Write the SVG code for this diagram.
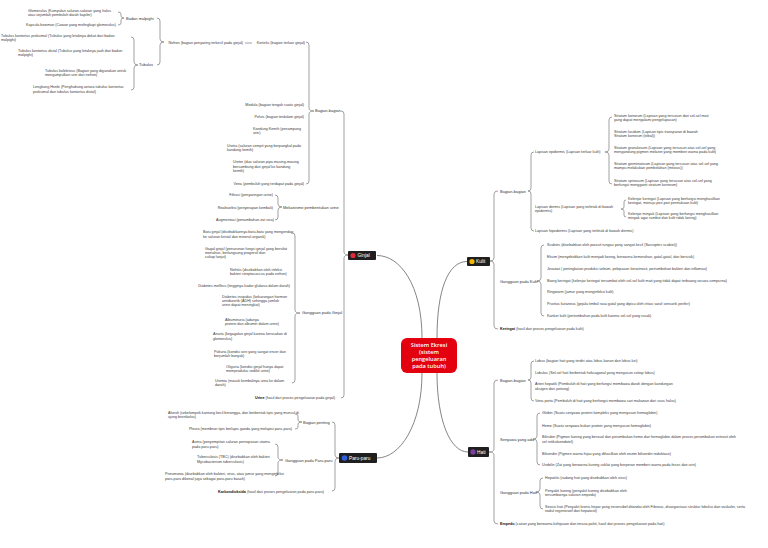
<svg xmlns="http://www.w3.org/2000/svg" width="768" height="548" viewBox="0 0 768 548">
<style>
.t{font-family:"Liberation Sans",Arial,sans-serif;font-size:3.7px;fill:#3a3a3a}
.m{font-size:4px;fill:#333}
.e{text-anchor:end}
.b{font-weight:bold;fill:#111}
.br{fill:none;stroke:#7a7a7a;stroke-width:0.7}
.cn{fill:none;stroke:#666;stroke-width:0.8}
.nb{fill:#1f1f1f}
.nl{font-family:"Liberation Sans",Arial,sans-serif;font-size:4.8px;fill:#fff}
.ct{font-family:"Open Sans","Liberation Sans",sans-serif;font-size:5.7px;fill:#fff;text-anchor:middle;font-weight:600}
</style>
<rect width="768" height="548" fill="#fff"/>
<g id="connectors">
<path class="cn" d="M377 255.5 C400 255.5 422 285 422 338"/>
<path class="cn" d="M467 261.5 C448 261.5 437 290 437 338"/>
<path class="cn" d="M377 458 C400 458 422 425 422 373"/>
<path class="cn" d="M468 452 C450 452 437 420 437 373"/>
<path class="br" d="M341 111 Q344 111 344 114 L344 252 Q344 255 349 255 Q344 255 344 258 L344 395 Q344 398 341 398"/>
<path class="br" d="M306 42 Q309 42 309 45 L309 108 Q309 111 314 111 Q309 111 309 114 L309 181 Q309 184 306 184"/>
<path class="br" d="M245 43 L252 43"/>
<path class="br" d="M157 18 Q160 18 160 21 L160 39 Q160 42 164 42 Q160 42 160 45 L160 62 Q160 65 157 65"/>
<path class="br" d="M118 12 Q121 12 121 14 L121 16 Q121 18 124 18 Q121 18 121 20 L121 23 Q121 25 118 25"/>
<path class="br" d="M131 37 Q134 37 134 40 L134 62 Q134 65 138 65 Q134 65 134 68 L134 87 Q134 90 131 90"/>
<path class="br" d="M275 195 Q278 195 278 198 L278 204 Q278 207 282 207 Q278 207 278 210 L278 217 Q278 220 275 220"/>
<path class="br" d="M292 233 Q295 233 295 236 L295 310 Q295 313 300 313 Q295 313 295 316 L295 380 Q295 383 292 383"/>
<path class="br" d="M332 422 Q335 422 335 425 L335 455 Q335 458 339 458 Q335 458 335 461 L335 488 Q335 491 332 491"/>
<path class="br" d="M295 414 Q298 414 298 416 L298 420 Q298 422 302 422 Q298 422 298 424 L298 427 Q298 429 295 429"/>
<path class="br" d="M275 444 Q278 444 278 447 L278 457 Q278 460 283 460 Q278 460 278 463 L278 473 Q278 476 275 476"/>
<path class="br" d="M498 191 Q494 191 494 194 L494 258 Q494 261 490 261 Q494 261 494 264 L494 326 Q494 329 498 329"/>
<path class="br" d="M534 152 Q531 152 531 155 L531 188 Q531 191 528 191 Q531 191 531 194 L531 228 Q531 231 534 231"/>
<path class="br" d="M612 117 Q609 117 609 120 L609 149 Q609 152 605 152 Q609 152 609 155 L609 181 Q609 184 612 184"/>
<path class="br" d="M626 200 Q624 200 624 202 L624 207 Q624 209 621 209 Q624 209 624 211 L624 215 Q624 217 626 217"/>
<path class="br" d="M544 245 Q541 245 541 248 L541 278 Q541 281 537 281 Q541 281 541 284 L541 313 Q541 316 544 316"/>
<path class="br" d="M498 380 Q494 380 494 383 L494 449 Q494 452 489 452 Q494 452 494 455 L494 521 Q494 524 498 524"/>
<path class="br" d="M534 361 Q531 361 531 364 L531 377 Q531 380 528 380 Q531 380 531 383 L531 398 Q531 401 534 401"/>
<path class="br" d="M540 413 Q537 413 537 416 L537 436 Q537 439 533 439 Q537 439 537 442 L537 462 Q537 465 540 465"/>
<path class="br" d="M543 478 Q540 478 540 481 L540 489 Q540 492 536 492 Q540 492 540 495 L540 506 Q540 509 543 509"/>
</g>
<g id="central">
<rect x="401" y="338" width="56" height="35" rx="6" fill="#e3000f"/>
<text class="ct" x="429" y="347">Sistem Ekresi</text>
<text class="ct" x="429" y="354">(sistem</text>
<text class="ct" x="429" y="361">pengeluaran</text>
<text class="ct" x="429" y="368">pada tubuh)</text>
</g>
<g id="ginjal">
<rect class="nb" x="348" y="251" width="28" height="9" rx="1"/>
<circle cx="353" cy="255.5" r="2.6" fill="#e5283c"/>
<text class="nl" x="357.5" y="257.3">Ginjal</text>
</g>
<g id="kulit">
<rect class="nb" x="467" y="257" width="23" height="9" rx="1"/>
<circle cx="472" cy="261.5" r="2.6" fill="#f2b705"/>
<text class="nl" x="476" y="263.3">Kulit</text>
</g>
<g id="paru">
<rect class="nb" x="339" y="453" width="38" height="10" rx="1"/>
<circle cx="344.5" cy="458" r="2.8" fill="#2d5fd8"/>
<text class="nl" x="349" y="459.8">Paru-paru</text>
</g>
<g id="hati">
<rect class="nb" x="468" y="447" width="21" height="10" rx="1"/>
<circle cx="473" cy="452" r="2.7" fill="#7b3fa0"/>
<text class="nl" x="477" y="453.8">Hati</text>
</g>
<g id="ginjal-topics">
<text class="t" x="28" y="12.3">Glomerulus (Kumpulan saluran-saluran yang halus<tspan x="28" dy="4">atau sejumlah pembuluh darah kapiler)</tspan></text>
<text class="t e" x="116" y="26.3">Kapsula bowman (Cawan yang melingkupi glomerulus)</text>
<text class="t m" x="126" y="20.4">Badan malpighi</text>
<text class="t" x="1" y="37.3">Tubulus kontortus proksimal (Tubulus yang letaknya dekat dari badan<tspan x="1" dy="4">malpighi)</tspan></text>
<text class="t" x="18" y="52.3">Tubulus kontortus distal (Tubulus yang letaknya jauh dari badan<tspan x="18" dy="4">malpighi)</tspan></text>
<text class="t" x="45" y="72.3">Tubulus kolektivus (Bagian yang digunakan untuk<tspan x="45" dy="4">mengumpulkan urin dari nefron)</tspan></text>
<text class="t" x="33" y="88.3">Lengkung Henle (Penghubung antara tubulus kontortus<tspan x="33" dy="4.5">proksimal dan tubulus kontortus distal)</tspan></text>
<text class="t m" x="139" y="66.4">Tubulus</text>
<text class="t e" x="243" y="44.4">Nefron (bagian penyaring terkecil pada ginjal)</text>
<text class="t e" x="305" y="44.3">Korteks (bagian terluar ginjal)</text>
<text class="t e" x="304" y="106.3">Medula (bagian tengah suatu ginjal)</text>
<text class="t e" x="304" y="118.3">Pelvis (bagian terdalam ginjal)</text>
<text class="t" x="253" y="130.3">Kandung Kemih (penampung<tspan x="253" dy="4">urin)</tspan></text>
<text class="t" x="227" y="147.3">Uretra (saluran sempit yang berpangkal pada<tspan x="227" dy="4">kandung kemih)</tspan></text>
<text class="t" x="233" y="163.3">Ureter (dua saluran pipa masing-masing<tspan x="233" dy="4.3">bersambung dari ginjal ke kandung</tspan><tspan x="233" dy="4.3">kemih)</tspan></text>
<text class="t e" x="304" y="185.3">Vena (pembuluh yang terdapat pada ginjal)</text>
<text class="t m" x="315" y="112.4">Bagian-bagian</text>
<text class="t e" x="273" y="196.3">Filtrasi (penyaringan urine)</text>
<text class="t e" x="273" y="209.3">Reabsorbsi (penyerapan kembali)</text>
<text class="t e" x="274" y="221.3">Augmentasi (penambahan zat sisa)</text>
<text class="t m" x="283" y="209.4">Mekanisme pembentukan urine</text>
<text class="t" x="203" y="233.3">Batu ginjal (disebabkannya batu-batu yang mengendap<tspan x="203" dy="4.5">ke saluran kristal dan mineral-organik)</tspan></text>
<text class="t" x="205" y="250.3">Gagal ginjal (penurunan fungsi ginjal yang bersifat<tspan x="205" dy="4">menahun, berlangsung progresif dan</tspan><tspan x="205" dy="4">cukup lanjut)</tspan></text>
<text class="t" x="230" y="271.3">Nefritis (disebabkan oleh infeksi<tspan x="230" dy="4">bakteri streptococcus pada nefron)</tspan></text>
<text class="t e" x="290" y="287.3">Diabetes mellitus (tingginya kadar glukosa dalam darah)</text>
<text class="t" x="222" y="298.3">Diabetes insipidus (kekurangan hormon<tspan x="222" dy="4">antidiuretik (ADH) sehingga jumlah</tspan><tspan x="222" dy="4">urine dapat meningkat)</tspan></text>
<text class="t" x="225" y="321.3">Albuminuria (adanya<tspan x="225" dy="4">protein dan albumin dalam urine)</tspan></text>
<text class="t" x="213" y="335.3">Anuria (kegagalan ginjal karena kerusakan di<tspan x="213" dy="4.5">glomerulus)</tspan></text>
<text class="t" x="214" y="353.3">Poliuria (kondisi urin yang sangat encer dan<tspan x="214" dy="4">berjumlah banyak)</tspan></text>
<text class="t" x="226" y="368.3">Oliguria (kondisi ginjal hanya dapat<tspan x="226" dy="4">memproduksi sedikit urine)</tspan></text>
<text class="t" x="215" y="382.3">Uremia (masuk kembalinya urea ke dalam<tspan x="215" dy="4">darah)</tspan></text>
<text class="t m" x="302" y="314.4">Gangguan pada Ginjal</text>
<text class="t" x="255" y="399.3"><tspan class="b">Urine</tspan> (hasil dari proses pengeluaran pada ginjal)</text>
</g>
<g id="paru-topics">
<text class="t" x="168" y="414.3">Alveoli (sekelompok kantung kecil berongga, dan berbentuk tipis yang muncul di<tspan x="168" dy="4">ujung bronkiolus)</tspan></text>
<text class="t e" x="292" y="430.3">Pleura (membran tipis berlapis ganda yang melapisi paru-paru)</text>
<text class="t m" x="303" y="424.4">Bagian penting</text>
<text class="t" x="192" y="443.3">Asma (penyempitan saluran pernapasan utama<tspan x="192" dy="4.5">pada paru-paru)</tspan></text>
<text class="t" x="197" y="458.3">Tuberculosis (TBC) (disebabkan oleh bakteri<tspan x="197" dy="4.5">Mycobacterium tuberculosis)</tspan></text>
<text class="t" x="165" y="475.3">Pneumonia (disebabkan oleh bakteri, virus, atau jamur yang menginfeksi<tspan x="165" dy="4.5">paru-paru dikenal juga sebagai paru-paru basah)</tspan></text>
<text class="t m" x="285" y="462.4">Gangguan pada Paru-paru</text>
<text class="t" x="218" y="493.3"><tspan class="b">Karbondioksida</tspan> (hasil dari proses pengeluaran pada paru-paru)</text>
</g>
<g id="kulit-topics">
<text class="t m" x="500" y="193.4">Bagian-bagian</text>
<text class="t" x="535" y="153.3">Lapisan epidermis (Lapisan terluar kulit)</text>
<text class="t" x="614" y="117.3">Stratum korneum (Lapisan yang tersusun dari sel-sel mati<tspan x="614" dy="4">yang dapat mengalami pengelupasan)</tspan></text>
<text class="t" x="614" y="133.3">Stratum lusidum (Lapisan tipis transparan di bawah<tspan x="614" dy="4">Stratum korneum (tebal))</tspan></text>
<text class="t" x="614" y="149.3">Stratum granulosum (Lapisan yang tersusun atas sel-sel yang<tspan x="614" dy="4">mengandung pigmen melanin yang memberi warna pada kulit)</tspan></text>
<text class="t" x="614" y="165.3">Stratum germinativum (Lapisan yang tersusun atas sel-sel yang<tspan x="614" dy="4">mampu melakukan pembelahan (mitosis))</tspan></text>
<text class="t" x="614" y="182.3">Stratum spinosum (Lapisan yang tersusun atas sel-sel yang<tspan x="614" dy="4">berfungsi mengganti stratum korneum)</tspan></text>
<text class="t" x="535" y="208.3">Lapisan dermis (Lapisan yang terletak di bawah<tspan x="535" dy="4">epidermis)</tspan></text>
<text class="t" x="628" y="200.3">Kelenjar keringat (Lapisan yang berfungsi menghasilkan<tspan x="628" dy="4">keringat, menuju pori-pori permukaan kulit)</tspan></text>
<text class="t" x="628" y="215.3">Kelenjar minyak (Lapisan yang berfungsi menghasilkan<tspan x="628" dy="4">minyak agar rambut dan kulit tidak kering)</tspan></text>
<text class="t" x="535" y="232.3">Lapisan hipodermis (Lapisan yang terletak di bawah dermis)</text>
<text class="t m" x="500" y="283.4">Gangguan pada Kulit</text>
<text class="t" x="547" y="246.3">Scabies (disebabkan oleh parasit tungau yang sangat kecil (Sarcoptes scabiei))</text>
<text class="t" x="547" y="258.3">Eksim (menyebabkan kulit menjadi kering, berwarna kemerahan, gatal-gatal, dan bersisik)</text>
<text class="t" x="547" y="270.3">Jerawat ( peningkatan produksi sebum, pelepasan keratinosit, pertumbuhan bakteri dan inflamasi)</text>
<text class="t" x="547" y="282.3">Biang keringat (kelenjar keringat tersumbat oleh sel-sel kulit mati yang tidak dapat terbuang secara sempurna)</text>
<text class="t" x="547" y="293.3">Ringworm (jamur yang menginfeksi kulit)</text>
<text class="t" x="547" y="305.3">Pruritus kutaneus (gejala timbul rasa gatal yang dipicu oleh iritasi saraf sensorik perifer)</text>
<text class="t" x="547" y="317.3">Kanker kulit (pertumbuhan pada kulit karena sel-sel yang rusak)</text>
<text class="t" x="500" y="330.3"><tspan class="b">Keringat</tspan> (hasil dari proses pengeluaran pada kulit)</text>
</g>
<g id="hati-topics">
<text class="t m" x="500" y="382.4">Bagian-bagian</text>
<text class="t" x="535" y="362.3">Lobus (bagian hati yang terdiri atas lobus kanan dan lobus kiri)</text>
<text class="t" x="535" y="374.3">Lobulus (Sel-sel hati berbentuk heksagonal yang menyusun setiap lobus)</text>
<text class="t" x="535" y="385.3">Arteri hepatik (Pembuluh di hati yang berfungsi membawa darah dengan kandungan<tspan x="535" dy="4.5">oksigen dari jantung)</tspan></text>
<text class="t" x="535" y="402.3">Vena porta (Pembuluh di hati yang berfungsi membawa sari makanan dari usus halus)</text>
<text class="t m" x="500" y="441.4">Senyawa yang ada</text>
<text class="t" x="542" y="414.3">Globin (Suatu senyawa protein kompleks yang menyusun hemoglobin)</text>
<text class="t" x="542" y="427.3">Heme (Suatu senyawa bukan protein yang menyusun hemoglobin)</text>
<text class="t" x="542" y="438.3">Bilirubin (Pigmen kuning yang berasal dari perombakan heme dari hemoglobin dalam proses perombakan eritrosit oleh<tspan x="542" dy="4.5">sel retikuloendotel)</tspan></text>
<text class="t" x="542" y="455.3">Biliverdin (Pigmen warna hijau yang dihasilkan oleh enzim biliverdin reduktase)</text>
<text class="t" x="542" y="466.3">Urobilin (Zat yang berwarna kuning coklat yang berperan memberi warna pada feses dan urin)</text>
<text class="t m" x="500" y="494.4">Gangguan pada Hati</text>
<text class="t" x="545" y="479.3">Hepatitis (radang hati yang disebabkan oleh virus)</text>
<text class="t" x="545" y="492.3">Penyakit kuning (penyakit kuning disebabkan oleh<tspan x="545" dy="4">tersumbatnya saluran empedu)</tspan></text>
<text class="t" x="545" y="508.3">Sirosis hati (Penyakit kronis hepar yang ireversibel ditandai oleh Fibrosis, disorganisasi struktur lobulus dan vaskuler, serta<tspan x="545" dy="4">nodul regeneratif dari hepatosit)</tspan></text>
<text class="t" x="500" y="525.3"><tspan class="b">Empedu</tspan> (cairan yang berwarna kehijauan dan terasa pahit, hasil dari proses pengeluaran pada hati)</text>
</g>
</svg>
